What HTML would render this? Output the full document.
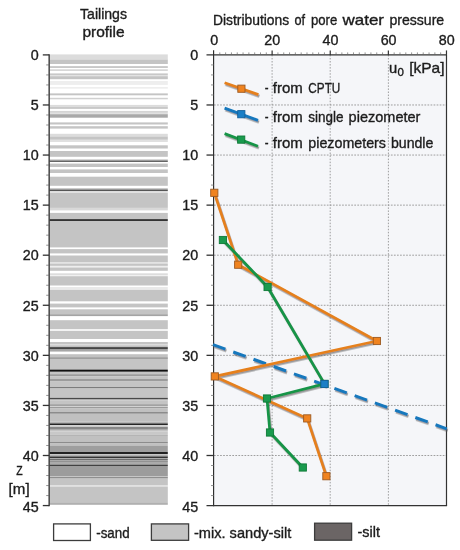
<!DOCTYPE html>
<html lang="en"><head><meta charset="utf-8"><title>Tailings profile and pore water pressure</title>
<style>html,body{margin:0;padding:0;background:#fff;}svg{display:block;}text{font-family:"Liberation Sans", sans-serif;fill:#1c1c1c;stroke:#1c1c1c;stroke-width:0.35px;}</style>
</head><body>
<svg width="460" height="550" viewBox="0 0 460 550">
<defs><filter id="sh" x="-10%" y="-10%" width="120%" height="120%"><feDropShadow dx="0.9" dy="1.6" stdDeviation="0.6" flood-color="#555" flood-opacity="0.6"/></filter></defs>
<rect width="460" height="550" fill="#ffffff"/>
<g>
<rect x="49.6" y="54.40" width="118.2" height="5.10" fill="#dcdcdc"/>
<rect x="49.6" y="59.50" width="118.2" height="4.50" fill="#c4c4c4"/>
<rect x="49.6" y="66.10" width="118.2" height="1.90" fill="#c8c8c8"/>
<rect x="49.6" y="69.40" width="118.2" height="1.40" fill="#cecece"/>
<rect x="49.6" y="73.40" width="118.2" height="1.90" fill="#c8c8c8"/>
<rect x="49.6" y="75.30" width="118.2" height="0.90" fill="#dddddd"/>
<rect x="49.6" y="76.20" width="118.2" height="3.00" fill="#c4c4c4"/>
<rect x="49.6" y="81.00" width="118.2" height="3.90" fill="#eeeeee"/>
<rect x="49.6" y="87.00" width="118.2" height="1.70" fill="#eeeeee"/>
<rect x="49.6" y="93.40" width="118.2" height="1.90" fill="#c4c4c4"/>
<rect x="49.6" y="97.80" width="118.2" height="1.50" fill="#d0d0d0"/>
<rect x="49.6" y="104.90" width="118.2" height="1.90" fill="#dcdcdc"/>
<rect x="49.6" y="106.80" width="118.2" height="2.10" fill="#c8c8c8"/>
<rect x="49.6" y="110.90" width="118.2" height="2.00" fill="#d4d4d4"/>
<rect x="49.6" y="112.90" width="118.2" height="1.30" fill="#e0e0e0"/>
<rect x="49.6" y="114.20" width="118.2" height="3.50" fill="#a8a8a8"/>
<rect x="49.6" y="122.40" width="118.2" height="2.10" fill="#c4c4c4"/>
<rect x="49.6" y="126.20" width="118.2" height="2.40" fill="#c4c4c4"/>
<rect x="49.6" y="133.80" width="118.2" height="2.70" fill="#dcdcdc"/>
<rect x="49.6" y="136.50" width="118.2" height="3.30" fill="#c4c4c4"/>
<rect x="49.6" y="139.80" width="118.2" height="2.20" fill="#e0e0e0"/>
<rect x="49.6" y="145.30" width="118.2" height="3.20" fill="#c4c4c4"/>
<rect x="49.6" y="151.00" width="118.2" height="5.80" fill="#c4c4c4"/>
<rect x="49.6" y="159.00" width="118.2" height="1.40" fill="#d8d8d8"/>
<rect x="49.6" y="160.40" width="118.2" height="1.60" fill="#666666"/>
<rect x="49.6" y="163.60" width="118.2" height="3.40" fill="#c4c4c4"/>
<rect x="49.6" y="169.40" width="118.2" height="3.60" fill="#c4c4c4"/>
<rect x="49.6" y="176.70" width="118.2" height="9.10" fill="#c4c4c4"/>
<rect x="49.6" y="188.20" width="118.2" height="1.30" fill="#c0c0c0"/>
<rect x="49.6" y="189.50" width="118.2" height="1.70" fill="#555555"/>
<rect x="49.6" y="192.50" width="118.2" height="15.40" fill="#c4c4c4"/>
<rect x="49.6" y="207.90" width="118.2" height="2.50" fill="#d8d8d8"/>
<rect x="49.6" y="212.90" width="118.2" height="6.20" fill="#c4c4c4"/>
<rect x="49.6" y="219.10" width="118.2" height="1.90" fill="#333333"/>
<rect x="49.6" y="221.00" width="118.2" height="26.40" fill="#c4c4c4"/>
<rect x="49.6" y="249.10" width="118.2" height="4.30" fill="#c4c4c4"/>
<rect x="49.6" y="255.50" width="118.2" height="6.90" fill="#c4c4c4"/>
<rect x="49.6" y="262.40" width="118.2" height="1.30" fill="#e0e0e0"/>
<rect x="49.6" y="263.70" width="118.2" height="2.20" fill="#c4c4c4"/>
<rect x="49.6" y="265.90" width="118.2" height="1.60" fill="#eeeeee"/>
<rect x="49.6" y="267.50" width="118.2" height="3.30" fill="#c4c4c4"/>
<rect x="49.6" y="273.50" width="118.2" height="1.30" fill="#d0d0d0"/>
<rect x="49.6" y="274.80" width="118.2" height="1.40" fill="#f0f0f0"/>
<rect x="49.6" y="276.20" width="118.2" height="9.30" fill="#c4c4c4"/>
<rect x="49.6" y="287.50" width="118.2" height="1.00" fill="#d4d4d4"/>
<rect x="49.6" y="289.60" width="118.2" height="11.70" fill="#c4c4c4"/>
<rect x="49.6" y="303.60" width="118.2" height="3.80" fill="#c4c4c4"/>
<rect x="49.6" y="309.30" width="118.2" height="4.90" fill="#c4c4c4"/>
<rect x="49.6" y="314.20" width="118.2" height="1.90" fill="#a4a4a4"/>
<rect x="49.6" y="320.20" width="118.2" height="9.00" fill="#c4c4c4"/>
<rect x="49.6" y="330.80" width="118.2" height="8.20" fill="#c4c4c4"/>
<rect x="49.6" y="342.00" width="118.2" height="2.50" fill="#c4c4c4"/>
<rect x="49.6" y="344.50" width="118.2" height="0.80" fill="#d8d8d8"/>
<rect x="49.6" y="345.30" width="118.2" height="1.80" fill="#c0c0c0"/>
<rect x="49.6" y="347.10" width="118.2" height="2.00" fill="#444444"/>
<rect x="49.6" y="349.10" width="118.2" height="1.80" fill="#999999"/>
<rect x="49.6" y="350.90" width="118.2" height="1.10" fill="#cccccc"/>
<rect x="49.6" y="354.20" width="118.2" height="3.30" fill="#c2c2c2"/>
<rect x="49.6" y="357.50" width="118.2" height="1.30" fill="#777777"/>
<rect x="49.6" y="358.70" width="118.2" height="10.90" fill="#c4c4c4"/>
<rect x="49.6" y="369.60" width="118.2" height="2.20" fill="#111111"/>
<rect x="49.6" y="371.80" width="118.2" height="2.70" fill="#c4c4c4"/>
<rect x="49.6" y="374.20" width="118.2" height="2.30" fill="#9c9c9c"/>
<rect x="49.6" y="376.70" width="118.2" height="2.50" fill="#c4c4c4"/>
<rect x="49.6" y="379.00" width="118.2" height="2.50" fill="#9c9c9c"/>
<rect x="49.6" y="381.40" width="118.2" height="5.60" fill="#c4c4c4"/>
<rect x="49.6" y="387.00" width="118.2" height="1.50" fill="#7c7c7c"/>
<rect x="49.6" y="388.40" width="118.2" height="9.60" fill="#c4c4c4"/>
<rect x="49.6" y="397.90" width="118.2" height="1.50" fill="#484848"/>
<rect x="49.6" y="399.30" width="118.2" height="1.10" fill="#aaaaaa"/>
<rect x="49.6" y="400.40" width="118.2" height="4.10" fill="#c4c4c4"/>
<rect x="49.6" y="404.40" width="118.2" height="1.50" fill="#8c8c8c"/>
<rect x="49.6" y="405.80" width="118.2" height="1.00" fill="#d0d0d0"/>
<rect x="49.6" y="406.90" width="118.2" height="1.20" fill="#9c9c9c"/>
<rect x="49.6" y="408.10" width="118.2" height="3.90" fill="#c0c0c0"/>
<rect x="49.6" y="412.00" width="118.2" height="1.80" fill="#8c8c8c"/>
<rect x="49.6" y="413.80" width="118.2" height="7.70" fill="#c0c0c0"/>
<rect x="49.6" y="421.50" width="118.2" height="1.90" fill="#b4b4b4"/>
<rect x="49.6" y="423.40" width="118.2" height="1.60" fill="#262626"/>
<rect x="49.6" y="425.00" width="118.2" height="1.80" fill="#d4d4d4"/>
<rect x="49.6" y="426.80" width="118.2" height="2.20" fill="#888888"/>
<rect x="49.6" y="429.00" width="118.2" height="1.70" fill="#aaaaaa"/>
<rect x="49.6" y="430.70" width="118.2" height="0.90" fill="#c4c4c4"/>
<rect x="49.6" y="431.60" width="118.2" height="3.30" fill="#c8c8c8"/>
<rect x="49.6" y="434.90" width="118.2" height="1.10" fill="#b4b4b4"/>
<rect x="49.6" y="436.00" width="118.2" height="5.80" fill="#c0c0c0"/>
<rect x="49.6" y="441.80" width="118.2" height="1.70" fill="#8c8c8c"/>
<rect x="49.6" y="443.50" width="118.2" height="2.00" fill="#c0c0c0"/>
<rect x="49.6" y="445.50" width="118.2" height="6.50" fill="#9e9e9e"/>
<rect x="49.6" y="452.00" width="118.2" height="2.20" fill="#222222"/>
<rect x="49.6" y="454.20" width="118.2" height="1.40" fill="#c4c4c4"/>
<rect x="49.6" y="455.60" width="118.2" height="1.00" fill="#707070"/>
<rect x="49.6" y="456.60" width="118.2" height="1.40" fill="#333333"/>
<rect x="49.6" y="458.00" width="118.2" height="1.00" fill="#aaaaaa"/>
<rect x="49.6" y="459.00" width="118.2" height="0.90" fill="#555555"/>
<rect x="49.6" y="459.90" width="118.2" height="0.80" fill="#bbbbbb"/>
<rect x="49.6" y="460.70" width="118.2" height="1.00" fill="#555555"/>
<rect x="49.6" y="461.70" width="118.2" height="3.00" fill="#aaaaaa"/>
<rect x="49.6" y="464.70" width="118.2" height="1.20" fill="#222222"/>
<rect x="49.6" y="465.90" width="118.2" height="10.50" fill="#9c9c9c"/>
<rect x="49.6" y="476.40" width="118.2" height="0.80" fill="#bbbbbb"/>
<rect x="49.6" y="477.20" width="118.2" height="1.30" fill="#777777"/>
<rect x="49.6" y="478.50" width="118.2" height="6.90" fill="#c4c4c4"/>
<rect x="49.6" y="485.40" width="118.2" height="1.60" fill="#dddddd"/>
<rect x="49.6" y="487.00" width="118.2" height="15.30" fill="#c4c4c4"/>
<rect x="49.6" y="502.30" width="118.2" height="2.50" fill="#b0b0b0"/>
</g>
<g stroke="#333333" fill="none">
<line x1="49.15" y1="54.3" x2="49.15" y2="506.2" stroke-width="1.3" stroke="#2a2a2a"/>
<line x1="42.8" y1="54.90" x2="49.1" y2="54.90" stroke-width="1.3"/>
<line x1="46.2" y1="64.91" x2="49.1" y2="64.91" stroke-width="0.7" stroke="#666"/>
<line x1="46.2" y1="74.93" x2="49.1" y2="74.93" stroke-width="0.7" stroke="#666"/>
<line x1="46.2" y1="84.94" x2="49.1" y2="84.94" stroke-width="0.7" stroke="#666"/>
<line x1="46.2" y1="94.96" x2="49.1" y2="94.96" stroke-width="0.7" stroke="#666"/>
<line x1="42.8" y1="104.97" x2="49.1" y2="104.97" stroke-width="1.3"/>
<line x1="46.2" y1="114.99" x2="49.1" y2="114.99" stroke-width="0.7" stroke="#666"/>
<line x1="46.2" y1="125.00" x2="49.1" y2="125.00" stroke-width="0.7" stroke="#666"/>
<line x1="46.2" y1="135.02" x2="49.1" y2="135.02" stroke-width="0.7" stroke="#666"/>
<line x1="46.2" y1="145.03" x2="49.1" y2="145.03" stroke-width="0.7" stroke="#666"/>
<line x1="42.8" y1="155.05" x2="49.1" y2="155.05" stroke-width="1.3"/>
<line x1="46.2" y1="165.06" x2="49.1" y2="165.06" stroke-width="0.7" stroke="#666"/>
<line x1="46.2" y1="175.08" x2="49.1" y2="175.08" stroke-width="0.7" stroke="#666"/>
<line x1="46.2" y1="185.09" x2="49.1" y2="185.09" stroke-width="0.7" stroke="#666"/>
<line x1="46.2" y1="195.11" x2="49.1" y2="195.11" stroke-width="0.7" stroke="#666"/>
<line x1="42.8" y1="205.13" x2="49.1" y2="205.13" stroke-width="1.3"/>
<line x1="46.2" y1="215.14" x2="49.1" y2="215.14" stroke-width="0.7" stroke="#666"/>
<line x1="46.2" y1="225.16" x2="49.1" y2="225.16" stroke-width="0.7" stroke="#666"/>
<line x1="46.2" y1="235.17" x2="49.1" y2="235.17" stroke-width="0.7" stroke="#666"/>
<line x1="46.2" y1="245.19" x2="49.1" y2="245.19" stroke-width="0.7" stroke="#666"/>
<line x1="42.8" y1="255.20" x2="49.1" y2="255.20" stroke-width="1.3"/>
<line x1="46.2" y1="265.21" x2="49.1" y2="265.21" stroke-width="0.7" stroke="#666"/>
<line x1="46.2" y1="275.23" x2="49.1" y2="275.23" stroke-width="0.7" stroke="#666"/>
<line x1="46.2" y1="285.25" x2="49.1" y2="285.25" stroke-width="0.7" stroke="#666"/>
<line x1="46.2" y1="295.26" x2="49.1" y2="295.26" stroke-width="0.7" stroke="#666"/>
<line x1="42.8" y1="305.27" x2="49.1" y2="305.27" stroke-width="1.3"/>
<line x1="46.2" y1="315.29" x2="49.1" y2="315.29" stroke-width="0.7" stroke="#666"/>
<line x1="46.2" y1="325.31" x2="49.1" y2="325.31" stroke-width="0.7" stroke="#666"/>
<line x1="46.2" y1="335.32" x2="49.1" y2="335.32" stroke-width="0.7" stroke="#666"/>
<line x1="46.2" y1="345.33" x2="49.1" y2="345.33" stroke-width="0.7" stroke="#666"/>
<line x1="42.8" y1="355.35" x2="49.1" y2="355.35" stroke-width="1.3"/>
<line x1="46.2" y1="365.37" x2="49.1" y2="365.37" stroke-width="0.7" stroke="#666"/>
<line x1="46.2" y1="375.38" x2="49.1" y2="375.38" stroke-width="0.7" stroke="#666"/>
<line x1="46.2" y1="385.39" x2="49.1" y2="385.39" stroke-width="0.7" stroke="#666"/>
<line x1="46.2" y1="395.41" x2="49.1" y2="395.41" stroke-width="0.7" stroke="#666"/>
<line x1="42.8" y1="405.43" x2="49.1" y2="405.43" stroke-width="1.3"/>
<line x1="46.2" y1="415.44" x2="49.1" y2="415.44" stroke-width="0.7" stroke="#666"/>
<line x1="46.2" y1="425.45" x2="49.1" y2="425.45" stroke-width="0.7" stroke="#666"/>
<line x1="46.2" y1="435.47" x2="49.1" y2="435.47" stroke-width="0.7" stroke="#666"/>
<line x1="46.2" y1="445.49" x2="49.1" y2="445.49" stroke-width="0.7" stroke="#666"/>
<line x1="42.8" y1="455.50" x2="49.1" y2="455.50" stroke-width="1.3"/>
<line x1="46.2" y1="465.51" x2="49.1" y2="465.51" stroke-width="0.7" stroke="#666"/>
<line x1="46.2" y1="475.53" x2="49.1" y2="475.53" stroke-width="0.7" stroke="#666"/>
<line x1="46.2" y1="485.55" x2="49.1" y2="485.55" stroke-width="0.7" stroke="#666"/>
<line x1="46.2" y1="495.56" x2="49.1" y2="495.56" stroke-width="0.7" stroke="#666"/>
<line x1="42.8" y1="505.57" x2="49.1" y2="505.57" stroke-width="1.3"/>
</g>
<text x="38.6" y="59.5" font-size="14.3" text-anchor="end">0</text>
<text x="198.2" y="59.5" font-size="14.3" text-anchor="end">0</text>
<text x="38.6" y="109.7" font-size="14.3" text-anchor="end">5</text>
<text x="198.2" y="109.7" font-size="14.3" text-anchor="end">5</text>
<text x="38.6" y="159.9" font-size="14.3" text-anchor="end">10</text>
<text x="198.2" y="159.9" font-size="14.3" text-anchor="end">10</text>
<text x="38.6" y="210.2" font-size="14.3" text-anchor="end">15</text>
<text x="198.2" y="210.2" font-size="14.3" text-anchor="end">15</text>
<text x="38.6" y="260.4" font-size="14.3" text-anchor="end">20</text>
<text x="198.2" y="260.4" font-size="14.3" text-anchor="end">20</text>
<text x="38.6" y="310.6" font-size="14.3" text-anchor="end">25</text>
<text x="198.2" y="310.6" font-size="14.3" text-anchor="end">25</text>
<text x="38.6" y="360.8" font-size="14.3" text-anchor="end">30</text>
<text x="198.2" y="360.8" font-size="14.3" text-anchor="end">30</text>
<text x="38.6" y="411.0" font-size="14.3" text-anchor="end">35</text>
<text x="198.2" y="411.0" font-size="14.3" text-anchor="end">35</text>
<text x="38.6" y="461.3" font-size="14.3" text-anchor="end">40</text>
<text x="198.2" y="461.3" font-size="14.3" text-anchor="end">40</text>
<text x="38.6" y="511.5" font-size="14.3" text-anchor="end">45</text>
<text x="198.2" y="511.5" font-size="14.3" text-anchor="end">45</text>
<text x="103.5" y="18.5" font-size="14.6" text-anchor="middle" textLength="47.0" lengthAdjust="spacingAndGlyphs">Tailings</text>
<text x="103.5" y="37.4" font-size="14.6" text-anchor="middle" textLength="42.2" lengthAdjust="spacingAndGlyphs">profile</text>
<text x="19.4" y="475.0" font-size="13.6" text-anchor="middle" textLength="6.4" lengthAdjust="spacingAndGlyphs">Z</text>
<text x="19.1" y="494.4" font-size="14.6" text-anchor="middle" textLength="21.0" lengthAdjust="spacingAndGlyphs">[m]</text>
<rect x="214.0" y="54.9" width="232.5" height="450.7" fill="#f5f6f9"/>
<g stroke="#8e8e8e" stroke-width="0.85" stroke-dasharray="1.7 1.35" fill="none">
<line x1="272.1" y1="54.9" x2="272.1" y2="505.6" stroke-dasharray="1.5 1.55"/>
<line x1="330.2" y1="54.9" x2="330.2" y2="505.6" stroke-dasharray="1.5 1.55"/>
<line x1="388.4" y1="54.9" x2="388.4" y2="505.6" stroke-dasharray="1.5 1.55"/>
<line x1="214.0" y1="104.97" x2="446.5" y2="104.97"/>
<line x1="214.0" y1="155.05" x2="446.5" y2="155.05"/>
<line x1="214.0" y1="205.13" x2="446.5" y2="205.13"/>
<line x1="214.0" y1="255.20" x2="446.5" y2="255.20"/>
<line x1="214.0" y1="305.27" x2="446.5" y2="305.27"/>
<line x1="214.0" y1="355.35" x2="446.5" y2="355.35"/>
<line x1="214.0" y1="405.43" x2="446.5" y2="405.43"/>
<line x1="214.0" y1="455.50" x2="446.5" y2="455.50"/>
</g>
<g stroke="#333333" fill="none">
<line x1="213.60" y1="50.3" x2="213.60" y2="506.2" stroke-width="1.15" stroke="#2a2a2a"/>
<line x1="206.5" y1="54.9" x2="447.0" y2="54.9" stroke-width="1.2"/>
<line x1="206.5" y1="505.6" x2="447.1" y2="505.6" stroke-width="1.3"/>
<line x1="446.5" y1="54.9" x2="446.5" y2="505.6" stroke-width="1.2"/>
<line x1="211.0" y1="64.91" x2="214.0" y2="64.91" stroke-width="0.7" stroke="#666"/>
<line x1="211.0" y1="74.93" x2="214.0" y2="74.93" stroke-width="0.7" stroke="#666"/>
<line x1="211.0" y1="84.94" x2="214.0" y2="84.94" stroke-width="0.7" stroke="#666"/>
<line x1="211.0" y1="94.96" x2="214.0" y2="94.96" stroke-width="0.7" stroke="#666"/>
<line x1="206.5" y1="104.97" x2="214.0" y2="104.97" stroke-width="1.3"/>
<line x1="211.0" y1="114.99" x2="214.0" y2="114.99" stroke-width="0.7" stroke="#666"/>
<line x1="211.0" y1="125.00" x2="214.0" y2="125.00" stroke-width="0.7" stroke="#666"/>
<line x1="211.0" y1="135.02" x2="214.0" y2="135.02" stroke-width="0.7" stroke="#666"/>
<line x1="211.0" y1="145.03" x2="214.0" y2="145.03" stroke-width="0.7" stroke="#666"/>
<line x1="206.5" y1="155.05" x2="214.0" y2="155.05" stroke-width="1.3"/>
<line x1="211.0" y1="165.06" x2="214.0" y2="165.06" stroke-width="0.7" stroke="#666"/>
<line x1="211.0" y1="175.08" x2="214.0" y2="175.08" stroke-width="0.7" stroke="#666"/>
<line x1="211.0" y1="185.09" x2="214.0" y2="185.09" stroke-width="0.7" stroke="#666"/>
<line x1="211.0" y1="195.11" x2="214.0" y2="195.11" stroke-width="0.7" stroke="#666"/>
<line x1="206.5" y1="205.13" x2="214.0" y2="205.13" stroke-width="1.3"/>
<line x1="211.0" y1="215.14" x2="214.0" y2="215.14" stroke-width="0.7" stroke="#666"/>
<line x1="211.0" y1="225.16" x2="214.0" y2="225.16" stroke-width="0.7" stroke="#666"/>
<line x1="211.0" y1="235.17" x2="214.0" y2="235.17" stroke-width="0.7" stroke="#666"/>
<line x1="211.0" y1="245.19" x2="214.0" y2="245.19" stroke-width="0.7" stroke="#666"/>
<line x1="206.5" y1="255.20" x2="214.0" y2="255.20" stroke-width="1.3"/>
<line x1="211.0" y1="265.21" x2="214.0" y2="265.21" stroke-width="0.7" stroke="#666"/>
<line x1="211.0" y1="275.23" x2="214.0" y2="275.23" stroke-width="0.7" stroke="#666"/>
<line x1="211.0" y1="285.25" x2="214.0" y2="285.25" stroke-width="0.7" stroke="#666"/>
<line x1="211.0" y1="295.26" x2="214.0" y2="295.26" stroke-width="0.7" stroke="#666"/>
<line x1="206.5" y1="305.27" x2="214.0" y2="305.27" stroke-width="1.3"/>
<line x1="211.0" y1="315.29" x2="214.0" y2="315.29" stroke-width="0.7" stroke="#666"/>
<line x1="211.0" y1="325.31" x2="214.0" y2="325.31" stroke-width="0.7" stroke="#666"/>
<line x1="211.0" y1="335.32" x2="214.0" y2="335.32" stroke-width="0.7" stroke="#666"/>
<line x1="211.0" y1="345.33" x2="214.0" y2="345.33" stroke-width="0.7" stroke="#666"/>
<line x1="206.5" y1="355.35" x2="214.0" y2="355.35" stroke-width="1.3"/>
<line x1="211.0" y1="365.37" x2="214.0" y2="365.37" stroke-width="0.7" stroke="#666"/>
<line x1="211.0" y1="375.38" x2="214.0" y2="375.38" stroke-width="0.7" stroke="#666"/>
<line x1="211.0" y1="385.39" x2="214.0" y2="385.39" stroke-width="0.7" stroke="#666"/>
<line x1="211.0" y1="395.41" x2="214.0" y2="395.41" stroke-width="0.7" stroke="#666"/>
<line x1="206.5" y1="405.43" x2="214.0" y2="405.43" stroke-width="1.3"/>
<line x1="211.0" y1="415.44" x2="214.0" y2="415.44" stroke-width="0.7" stroke="#666"/>
<line x1="211.0" y1="425.45" x2="214.0" y2="425.45" stroke-width="0.7" stroke="#666"/>
<line x1="211.0" y1="435.47" x2="214.0" y2="435.47" stroke-width="0.7" stroke="#666"/>
<line x1="211.0" y1="445.49" x2="214.0" y2="445.49" stroke-width="0.7" stroke="#666"/>
<line x1="206.5" y1="455.50" x2="214.0" y2="455.50" stroke-width="1.3"/>
<line x1="211.0" y1="465.51" x2="214.0" y2="465.51" stroke-width="0.7" stroke="#666"/>
<line x1="211.0" y1="475.53" x2="214.0" y2="475.53" stroke-width="0.7" stroke="#666"/>
<line x1="211.0" y1="485.55" x2="214.0" y2="485.55" stroke-width="0.7" stroke="#666"/>
<line x1="211.0" y1="495.56" x2="214.0" y2="495.56" stroke-width="0.7" stroke="#666"/>
<line x1="219.81" y1="52.4" x2="219.81" y2="54.9" stroke-width="0.7" stroke="#666"/>
<line x1="225.62" y1="52.4" x2="225.62" y2="54.9" stroke-width="0.7" stroke="#666"/>
<line x1="231.44" y1="52.4" x2="231.44" y2="54.9" stroke-width="0.7" stroke="#666"/>
<line x1="237.25" y1="52.4" x2="237.25" y2="54.9" stroke-width="0.7" stroke="#666"/>
<line x1="243.06" y1="52.4" x2="243.06" y2="54.9" stroke-width="0.7" stroke="#666"/>
<line x1="248.87" y1="52.4" x2="248.87" y2="54.9" stroke-width="0.7" stroke="#666"/>
<line x1="254.68" y1="52.4" x2="254.68" y2="54.9" stroke-width="0.7" stroke="#666"/>
<line x1="260.50" y1="52.4" x2="260.50" y2="54.9" stroke-width="0.7" stroke="#666"/>
<line x1="266.31" y1="52.4" x2="266.31" y2="54.9" stroke-width="0.7" stroke="#666"/>
<line x1="272.12" y1="50.4" x2="272.12" y2="54.9" stroke-width="1.2"/>
<line x1="277.93" y1="52.4" x2="277.93" y2="54.9" stroke-width="0.7" stroke="#666"/>
<line x1="283.74" y1="52.4" x2="283.74" y2="54.9" stroke-width="0.7" stroke="#666"/>
<line x1="289.56" y1="52.4" x2="289.56" y2="54.9" stroke-width="0.7" stroke="#666"/>
<line x1="295.37" y1="52.4" x2="295.37" y2="54.9" stroke-width="0.7" stroke="#666"/>
<line x1="301.18" y1="52.4" x2="301.18" y2="54.9" stroke-width="0.7" stroke="#666"/>
<line x1="306.99" y1="52.4" x2="306.99" y2="54.9" stroke-width="0.7" stroke="#666"/>
<line x1="312.80" y1="52.4" x2="312.80" y2="54.9" stroke-width="0.7" stroke="#666"/>
<line x1="318.62" y1="52.4" x2="318.62" y2="54.9" stroke-width="0.7" stroke="#666"/>
<line x1="324.43" y1="52.4" x2="324.43" y2="54.9" stroke-width="0.7" stroke="#666"/>
<line x1="330.24" y1="50.4" x2="330.24" y2="54.9" stroke-width="1.2"/>
<line x1="336.05" y1="52.4" x2="336.05" y2="54.9" stroke-width="0.7" stroke="#666"/>
<line x1="341.86" y1="52.4" x2="341.86" y2="54.9" stroke-width="0.7" stroke="#666"/>
<line x1="347.68" y1="52.4" x2="347.68" y2="54.9" stroke-width="0.7" stroke="#666"/>
<line x1="353.49" y1="52.4" x2="353.49" y2="54.9" stroke-width="0.7" stroke="#666"/>
<line x1="359.30" y1="52.4" x2="359.30" y2="54.9" stroke-width="0.7" stroke="#666"/>
<line x1="365.11" y1="52.4" x2="365.11" y2="54.9" stroke-width="0.7" stroke="#666"/>
<line x1="370.92" y1="52.4" x2="370.92" y2="54.9" stroke-width="0.7" stroke="#666"/>
<line x1="376.74" y1="52.4" x2="376.74" y2="54.9" stroke-width="0.7" stroke="#666"/>
<line x1="382.55" y1="52.4" x2="382.55" y2="54.9" stroke-width="0.7" stroke="#666"/>
<line x1="388.36" y1="50.4" x2="388.36" y2="54.9" stroke-width="1.2"/>
<line x1="394.17" y1="52.4" x2="394.17" y2="54.9" stroke-width="0.7" stroke="#666"/>
<line x1="399.98" y1="52.4" x2="399.98" y2="54.9" stroke-width="0.7" stroke="#666"/>
<line x1="405.80" y1="52.4" x2="405.80" y2="54.9" stroke-width="0.7" stroke="#666"/>
<line x1="411.61" y1="52.4" x2="411.61" y2="54.9" stroke-width="0.7" stroke="#666"/>
<line x1="417.42" y1="52.4" x2="417.42" y2="54.9" stroke-width="0.7" stroke="#666"/>
<line x1="423.23" y1="52.4" x2="423.23" y2="54.9" stroke-width="0.7" stroke="#666"/>
<line x1="429.04" y1="52.4" x2="429.04" y2="54.9" stroke-width="0.7" stroke="#666"/>
<line x1="434.86" y1="52.4" x2="434.86" y2="54.9" stroke-width="0.7" stroke="#666"/>
<line x1="440.67" y1="52.4" x2="440.67" y2="54.9" stroke-width="0.7" stroke="#666"/>
<line x1="446.48" y1="50.4" x2="446.48" y2="54.9" stroke-width="1.2"/>
</g>
<g filter="url(#sh)" fill="none" stroke-linejoin="round" stroke-linecap="butt">
<line x1="213.0" y1="344.7" x2="446.8" y2="428.8" stroke="#1878bd" stroke-width="3" stroke-dasharray="13.2 8.3"/>
<polyline points="214.3,192.8 238.2,264.7 376.9,341.0 214.8,376.4 307.2,418.4 326.4,476.2" stroke="#e5801f" stroke-width="2.7"/>
<polyline points="222.9,240.0 267.6,287.0 324.5,383.9 267.0,398.5 270.0,432.5 302.8,467.5" stroke="#149447" stroke-width="2.8"/>
<line x1="224.6" y1="82.8" x2="258.4" y2="94.6" stroke="#e5801f" stroke-width="2.8"/>
<line x1="224.6" y1="108.1" x2="258.0" y2="120.3" stroke="#1878bd" stroke-width="3"/>
<line x1="224.6" y1="133.6" x2="258.0" y2="146.2" stroke="#149447" stroke-width="2.8"/>
</g>
<g>
<rect x="210.7" y="189.2" width="7.2" height="7.2" fill="#f0831f" stroke="#9c5a22" stroke-width="0.9"/>
<rect x="234.6" y="261.1" width="7.2" height="7.2" fill="#f0831f" stroke="#9c5a22" stroke-width="0.9"/>
<rect x="373.3" y="337.4" width="7.2" height="7.2" fill="#f0831f" stroke="#9c5a22" stroke-width="0.9"/>
<rect x="211.2" y="372.8" width="7.2" height="7.2" fill="#f0831f" stroke="#9c5a22" stroke-width="0.9"/>
<rect x="303.6" y="414.8" width="7.2" height="7.2" fill="#f0831f" stroke="#9c5a22" stroke-width="0.9"/>
<rect x="322.8" y="472.6" width="7.2" height="7.2" fill="#f0831f" stroke="#9c5a22" stroke-width="0.9"/>
<rect x="219.3" y="236.4" width="7.2" height="7.2" fill="#1a9a4e" stroke="#0f7a38" stroke-width="0.9"/>
<rect x="264.0" y="283.4" width="7.2" height="7.2" fill="#1a9a4e" stroke="#0f7a38" stroke-width="0.9"/>
<rect x="320.9" y="380.3" width="7.2" height="7.2" fill="#1a9a4e" stroke="#0f7a38" stroke-width="0.9"/>
<rect x="263.4" y="394.9" width="7.2" height="7.2" fill="#1a9a4e" stroke="#0f7a38" stroke-width="0.9"/>
<rect x="266.4" y="428.9" width="7.2" height="7.2" fill="#1a9a4e" stroke="#0f7a38" stroke-width="0.9"/>
<rect x="299.2" y="463.9" width="7.2" height="7.2" fill="#1a9a4e" stroke="#0f7a38" stroke-width="0.9"/>
<rect x="320.9" y="380.4" width="7.2" height="7.2" fill="#1b7fc6" stroke="#14609a" stroke-width="0.9"/>
<rect x="237.8" y="85.1" width="7.2" height="7.2" fill="#f0831f" stroke="#9c5a22" stroke-width="0.9"/>
<rect x="237.7" y="110.6" width="7.2" height="7.2" fill="#1b7fc6" stroke="#14609a" stroke-width="0.9"/>
<rect x="237.6" y="136.0" width="7.2" height="7.2" fill="#1a9a4e" stroke="#0f7a38" stroke-width="0.9"/>
</g>
<text x="214.2" y="44.6" font-size="14.3" text-anchor="middle">0</text>
<text x="272.3" y="44.6" font-size="14.3" text-anchor="middle">20</text>
<text x="330.4" y="44.6" font-size="14.3" text-anchor="middle">40</text>
<text x="388.6" y="44.6" font-size="14.3" text-anchor="middle">60</text>
<text x="446.7" y="44.6" font-size="14.3" text-anchor="middle">80</text>
<text x="212.9" y="25.2" font-size="14.6" text-anchor="start" textLength="76.3" lengthAdjust="spacingAndGlyphs">Distributions</text>
<text x="294.4" y="25.2" font-size="14.6" text-anchor="start" textLength="10.6" lengthAdjust="spacingAndGlyphs">of</text>
<text x="311.0" y="25.2" font-size="14.6" text-anchor="start" textLength="26.3" lengthAdjust="spacingAndGlyphs">pore</text>
<text x="342.6" y="25.2" font-size="14.6" text-anchor="start" textLength="41.4" lengthAdjust="spacingAndGlyphs">water</text>
<text x="389.4" y="25.2" font-size="14.6" text-anchor="start" textLength="54.8" lengthAdjust="spacingAndGlyphs">pressure</text>
<text x="389.0" y="73.3" font-size="14.6" text-anchor="start" textLength="8.2" lengthAdjust="spacingAndGlyphs">u</text>
<text x="397.4" y="76.3" font-size="10.8" text-anchor="start" textLength="6.4" lengthAdjust="spacingAndGlyphs">0</text>
<text x="409.2" y="73.3" font-size="14.6" text-anchor="start" textLength="35.4" lengthAdjust="spacingAndGlyphs">[kPa]</text>
<text x="264.8" y="92.5" font-size="14.8" text-anchor="start" textLength="3.8" lengthAdjust="spacingAndGlyphs">-</text>
<text x="272.8" y="92.5" font-size="14.8" text-anchor="start" textLength="30.0" lengthAdjust="spacingAndGlyphs">from</text>
<text x="308.3" y="92.5" font-size="14.8" text-anchor="start" textLength="32.0" lengthAdjust="spacingAndGlyphs">CPTU</text>
<text x="264.8" y="122.4" font-size="14.8" text-anchor="start" textLength="3.8" lengthAdjust="spacingAndGlyphs">-</text>
<text x="272.8" y="122.4" font-size="14.8" text-anchor="start" textLength="30.0" lengthAdjust="spacingAndGlyphs">from</text>
<text x="308.3" y="122.4" font-size="14.8" text-anchor="start" textLength="35.3" lengthAdjust="spacingAndGlyphs">single</text>
<text x="348.6" y="122.4" font-size="14.8" text-anchor="start" textLength="71.8" lengthAdjust="spacingAndGlyphs">piezometer</text>
<text x="264.8" y="148.3" font-size="14.8" text-anchor="start" textLength="3.8" lengthAdjust="spacingAndGlyphs">-</text>
<text x="272.8" y="148.3" font-size="14.8" text-anchor="start" textLength="30.0" lengthAdjust="spacingAndGlyphs">from</text>
<text x="308.3" y="148.3" font-size="14.8" text-anchor="start" textLength="77.7" lengthAdjust="spacingAndGlyphs">piezometers</text>
<text x="390.9" y="148.3" font-size="14.8" text-anchor="start" textLength="42.5" lengthAdjust="spacingAndGlyphs">bundle</text>
<g stroke="#3c3c3c" stroke-width="1.3">
<rect x="53.6" y="523.9" width="36.8" height="16.6" fill="#ffffff"/>
<rect x="151.4" y="523.9" width="37.2" height="16.4" fill="#c4c4c4"/>
<rect x="314.6" y="523.2" width="37.0" height="17.0" fill="#6b6565"/>
</g>
<text x="96.2" y="537.6" font-size="14.6" text-anchor="start" textLength="33.4" lengthAdjust="spacingAndGlyphs">-sand</text>
<text x="194.0" y="537.6" font-size="14.6" text-anchor="start" textLength="97.2" lengthAdjust="spacingAndGlyphs">-mix. sandy-silt</text>
<text x="357.5" y="537.4" font-size="14.6" text-anchor="start" textLength="22.4" lengthAdjust="spacingAndGlyphs">-silt</text>
</svg>
</body></html>
